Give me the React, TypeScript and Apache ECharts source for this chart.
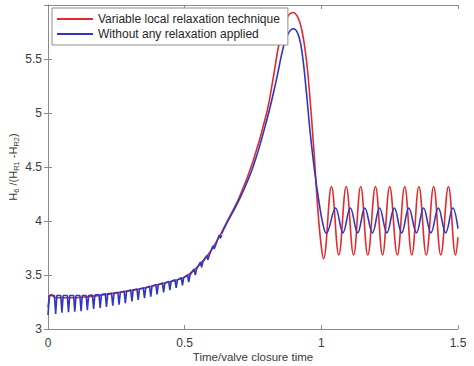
import React, { useEffect, useRef } from "react";
import * as echarts from "echarts";

const RED_NAME = "Variable local relaxation technique";
const BLUE_NAME = "Without any relaxation applied";

const xTicks = [0, 0.5, 1, 1.5];
const yTicks = [3, 3.5, 4, 4.5, 5, 5.5, 6];

// Red: variable local relaxation technique
const redT = [
  0, 0.006, 0.012, 0.02, 0.03, 0.1, 0.15, 0.2, 0.25, 0.3, 0.35, 0.4, 0.45, 0.5,
  0.54, 0.57, 0.6, 0.63, 0.65, 0.7, 0.75, 0.8, 0.823, 0.847, 0.872, 0.896, 0.915,
  0.93, 0.945, 0.958, 0.972, 0.988, 1.0, 1.008, 1.037, 1.064, 1.091, 1.118, 1.144,
  1.17, 1.198, 1.224, 1.25, 1.278, 1.305, 1.331, 1.357, 1.384, 1.411, 1.437, 1.465,
  1.491, 1.5,
];
const redV = [
  3.2, 3.3, 3.32, 3.3, 3.29, 3.29, 3.3, 3.315, 3.335, 3.355, 3.38, 3.41, 3.44, 3.48,
  3.56, 3.64, 3.74, 3.87, 3.97, 4.22, 4.55, 5.0, 5.31, 5.66, 5.87, 5.93, 5.88,
  5.75, 5.5, 5.15, 4.68, 4.08, 3.76, 3.65, 4.32, 3.685, 4.32, 3.685, 4.32,
  3.685, 4.32, 3.685, 4.32, 3.685, 4.32, 3.685, 4.32, 3.685, 4.32, 3.685, 4.32,
  3.685, 3.85,
];

// Blue: sawtooth phase (before the pressure rise) — dip times, flat tops and dip bottoms
const blueStartT = [0, 0.005];
const blueStartV = [3.13, 3.31];
const blueDipT = [
  0.028, 0.051, 0.075, 0.098, 0.121, 0.144, 0.167, 0.191, 0.214, 0.237, 0.26, 0.283,
  0.307, 0.33, 0.353, 0.376, 0.399, 0.423, 0.446, 0.469, 0.492, 0.515, 0.539, 0.562,
  0.585, 0.608, 0.631,
];
const blueDipTop = [
  3.31, 3.31, 3.31, 3.31, 3.31, 3.31, 3.315, 3.32, 3.325, 3.33, 3.34, 3.35,
  3.36, 3.37, 3.38, 3.395, 3.41, 3.425, 3.44, 3.455, 3.475, 3.5, 3.555, 3.62,
  3.68, 3.77, 3.87,
];
const blueDipLow = [
  3.14, 3.15, 3.155, 3.16, 3.165, 3.175, 3.185, 3.195, 3.205, 3.215, 3.225, 3.24,
  3.255, 3.27, 3.285, 3.3, 3.32, 3.34, 3.36, 3.38, 3.405, 3.435, 3.5, 3.57,
  3.64, 3.74, 3.84,
];
const DIP_HALF = 0.0045;

// Blue: pressure rise and oscillation after closure
const blueT = [
  0.635, 0.65, 0.7, 0.75, 0.8, 0.835, 0.86, 0.878, 0.897, 0.915, 0.93, 0.945, 0.96,
  0.975, 0.99, 1.005, 1.018, 1.052, 1.079, 1.106, 1.133, 1.159, 1.187, 1.213, 1.24,
  1.267, 1.294, 1.32, 1.348, 1.374, 1.401, 1.428, 1.455, 1.481, 1.5,
];
const blueV = [
  3.88, 3.96, 4.2, 4.5, 4.93, 5.3, 5.6, 5.73, 5.78, 5.73, 5.55, 5.2, 4.8,
  4.47, 4.2, 3.98, 3.886, 4.12, 3.89, 4.12, 3.89, 4.12, 3.89, 4.12, 3.89,
  4.12, 3.89, 4.12, 3.89, 4.12, 3.89, 4.12, 3.89, 4.12, 3.93,
];

const RED = "#e3292d";
const BLUE = "#2f36c0";
const AXIS = "#8a8a8a";
const TXT = "#3a3a3a";
const FONT = "Liberation Sans, Arial, sans-serif";

export default function App() {
  const ref = useRef<HTMLDivElement>(null);
  useEffect(() => {
    if (!ref.current) return;
    const chart = echarts.init(ref.current, undefined, { renderer: "svg" });

    const redData = redT.map((t, i) => [t, redV[i]]);
    const blueEarly: number[][] = blueStartT.map((t, i) => [t, blueStartV[i]]);
    blueDipT.forEach((t, i) => {
      blueEarly.push([t - DIP_HALF, blueDipTop[i]]);
      blueEarly.push([t, blueDipLow[i]]);
      blueEarly.push([t + DIP_HALF, blueDipTop[i]]);
    });
    const blueLate = blueT.map((t, i) => [t, blueV[i]]);

    const commonAxisLine = { show: true, lineStyle: { color: AXIS, width: 1 } };
    const tick = { show: true, inside: true, length: 4, lineStyle: { color: AXIS } };

    chart.setOption({
      animation: false,
      backgroundColor: "#ffffff",
      textStyle: { fontFamily: FONT },
      grid: { left: 48, right: 16, top: 5, bottom: 37, containLabel: false, outerBoundsMode: "none" },
      legend: {
        data: [RED_NAME, BLUE_NAME],
        orient: "vertical",
        left: 52,
        top: 8,
        padding: [4, 8, 4, 5],
        itemGap: 1,
        itemWidth: 36,
        itemHeight: 2,
        icon: "rect",
        borderColor: "#8f8f8f",
        borderWidth: 1,
        backgroundColor: "#ffffff",
        textStyle: { fontSize: 12, color: "#262626", fontFamily: FONT, lineHeight: 14 },
      },
      xAxis: [
        {
          type: "value",
          min: 0,
          max: 1.5,
          interval: 0.5,
          name: "Time/valve closure time",
          nameLocation: "middle",
          nameGap: 22,
          nameMoveOverlap: false,
          nameTextStyle: { fontSize: 11.5, color: TXT, fontFamily: FONT },
          axisLine: commonAxisLine,
          axisTick: tick,
          splitLine: { show: false },
          axisLabel: {
            color: TXT,
            fontSize: 12,
            margin: 8,
            fontFamily: FONT,
            formatter: (v: number) => (xTicks.includes(v) ? String(v) : ""),
          },
        },
        {
          type: "value",
          position: "top",
          min: 0,
          max: 1.5,
          interval: 0.5,
          axisLine: commonAxisLine,
          axisTick: tick,
          axisLabel: { show: false },
          splitLine: { show: false },
        },
      ],
      yAxis: [
        {
          type: "value",
          min: 3,
          max: 6,
          interval: 0.5,
          name: "{m|H}{s|6}{m| /(H}{s|R1}{m| -H}{s|R2}{m|)}",
          nameLocation: "middle",
          nameRotate: 90,
          nameGap: 28,
          nameMoveOverlap: false,
          nameTextStyle: {
            color: TXT,
            fontFamily: FONT,
            rich: {
              m: { fontSize: 11, color: TXT, fontFamily: FONT, lineHeight: 15 },
              s: { fontSize: 7.5, color: TXT, fontFamily: FONT, verticalAlign: "bottom" },
            },
          },
          axisLine: commonAxisLine,
          axisTick: tick,
          splitLine: { show: false },
          axisLabel: {
            color: TXT,
            fontSize: 12,
            margin: 6,
            fontFamily: FONT,
            formatter: (v: number) => (v < 5.99 && yTicks.includes(v) ? String(v) : ""),
          },
        },
        {
          type: "value",
          position: "right",
          min: 3,
          max: 6,
          interval: 0.5,
          axisLine: commonAxisLine,
          axisTick: tick,
          axisLabel: { show: false },
          splitLine: { show: false },
        },
      ],
      series: [
        {
          name: RED_NAME,
          type: "line",
          data: redData,
          symbol: "none",
          smooth: 0.4,
          lineStyle: { color: RED, width: 1.6 },
          itemStyle: { color: RED },
        },
        {
          name: BLUE_NAME,
          type: "line",
          data: blueEarly,
          symbol: "none",
          smooth: false,
          lineStyle: { color: BLUE, width: 1.6 },
          itemStyle: { color: BLUE },
        },
        {
          name: BLUE_NAME,
          type: "line",
          data: blueLate,
          symbol: "none",
          smooth: 0.4,
          lineStyle: { color: BLUE, width: 1.6 },
          itemStyle: { color: BLUE },
        },
      ],
    });
    return () => chart.dispose();
  }, []);
  return <div ref={ref} style={{ width: 474, height: 366, position: "absolute", left: 0, top: 0 }} />;
}
